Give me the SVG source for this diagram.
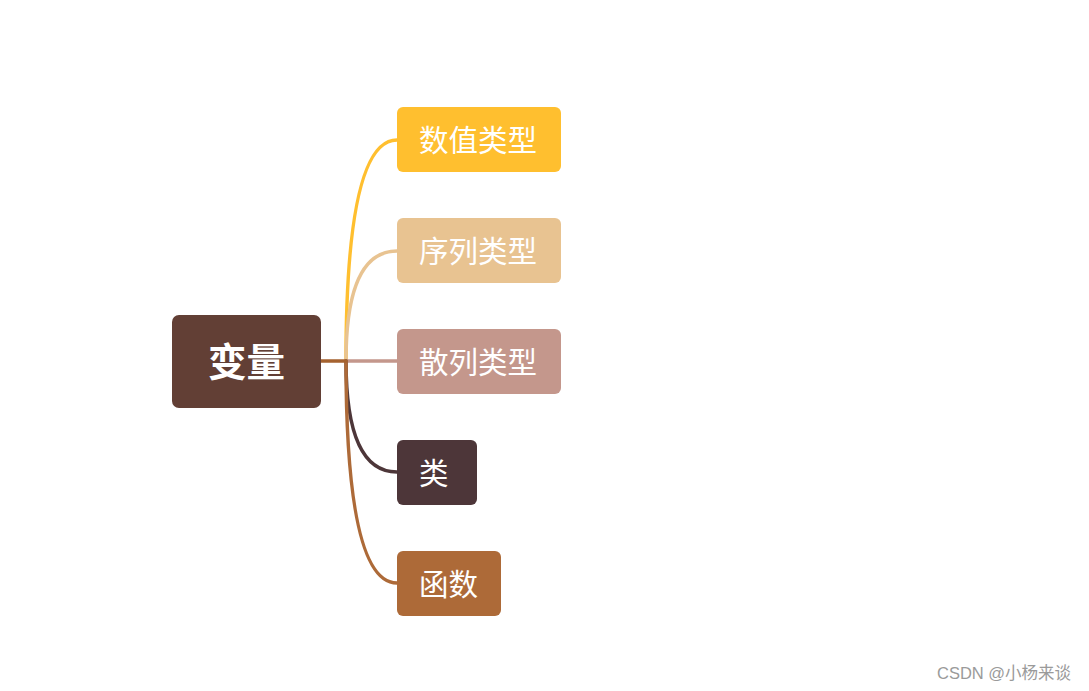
<svg xmlns="http://www.w3.org/2000/svg" width="1089" height="691" viewBox="0 0 1089 691">
<style>
.lbl{font-family:"Noto Sans CJK SC","Liberation Sans",sans-serif;fill:#fff;font-size:29.5px;dominant-baseline:central}
.root{font-size:38.5px;font-weight:bold;text-anchor:middle}
.c{fill:none;stroke-width:3.5;stroke-linecap:round}
.wm{font-family:"Liberation Sans","Noto Sans CJK SC",sans-serif;font-size:16.5px;fill:#9a9a9a}
</style>
<rect width="1089" height="691" fill="#fff"/>
<g id="connectors">
<path class="c" d="M346 361 Q346 140 397 140" stroke="#FFBF2F"/>
<path class="c" d="M346 361 Q346 251 397 251" stroke="#E8C391"/>
<path class="c" d="M346 361 L397 361" stroke="#C4978C"/>
<path class="c" d="M346 361 Q346 472 397 472" stroke="#4D3639"/>
<path class="c" d="M346 361 Q346 583 397 583" stroke="#AD6A38"/>
<path class="c" d="M321 361 L346 361" stroke="#A5622F"/>
</g>
<g id="root"><rect x="172" y="315" width="149" height="93" rx="7" fill="#623F35"/><text class="lbl root" x="246.5" y="359">变量</text></g>
<g id="n1"><rect x="397" y="107" width="164" height="65" rx="6" fill="#FFBF2F"/><text class="lbl" x="419" y="138">数值类型</text></g>
<g id="n2"><rect x="397" y="218" width="164" height="65" rx="6" fill="#E8C391"/><text class="lbl" x="419" y="249">序列类型</text></g>
<g id="n3"><rect x="397" y="329" width="164" height="65" rx="6" fill="#C4978C"/><text class="lbl" x="419" y="360">散列类型</text></g>
<g id="n4"><rect x="397" y="440" width="80" height="65" rx="6" fill="#4D3639"/><text class="lbl" x="419" y="471">类</text></g>
<g id="n5"><rect x="397" y="551" width="104" height="65" rx="6" fill="#AD6A38"/><text class="lbl" x="419" y="582">函数</text></g>
<text class="wm" x="937" y="679">CSDN @小杨来谈</text>
</svg>
